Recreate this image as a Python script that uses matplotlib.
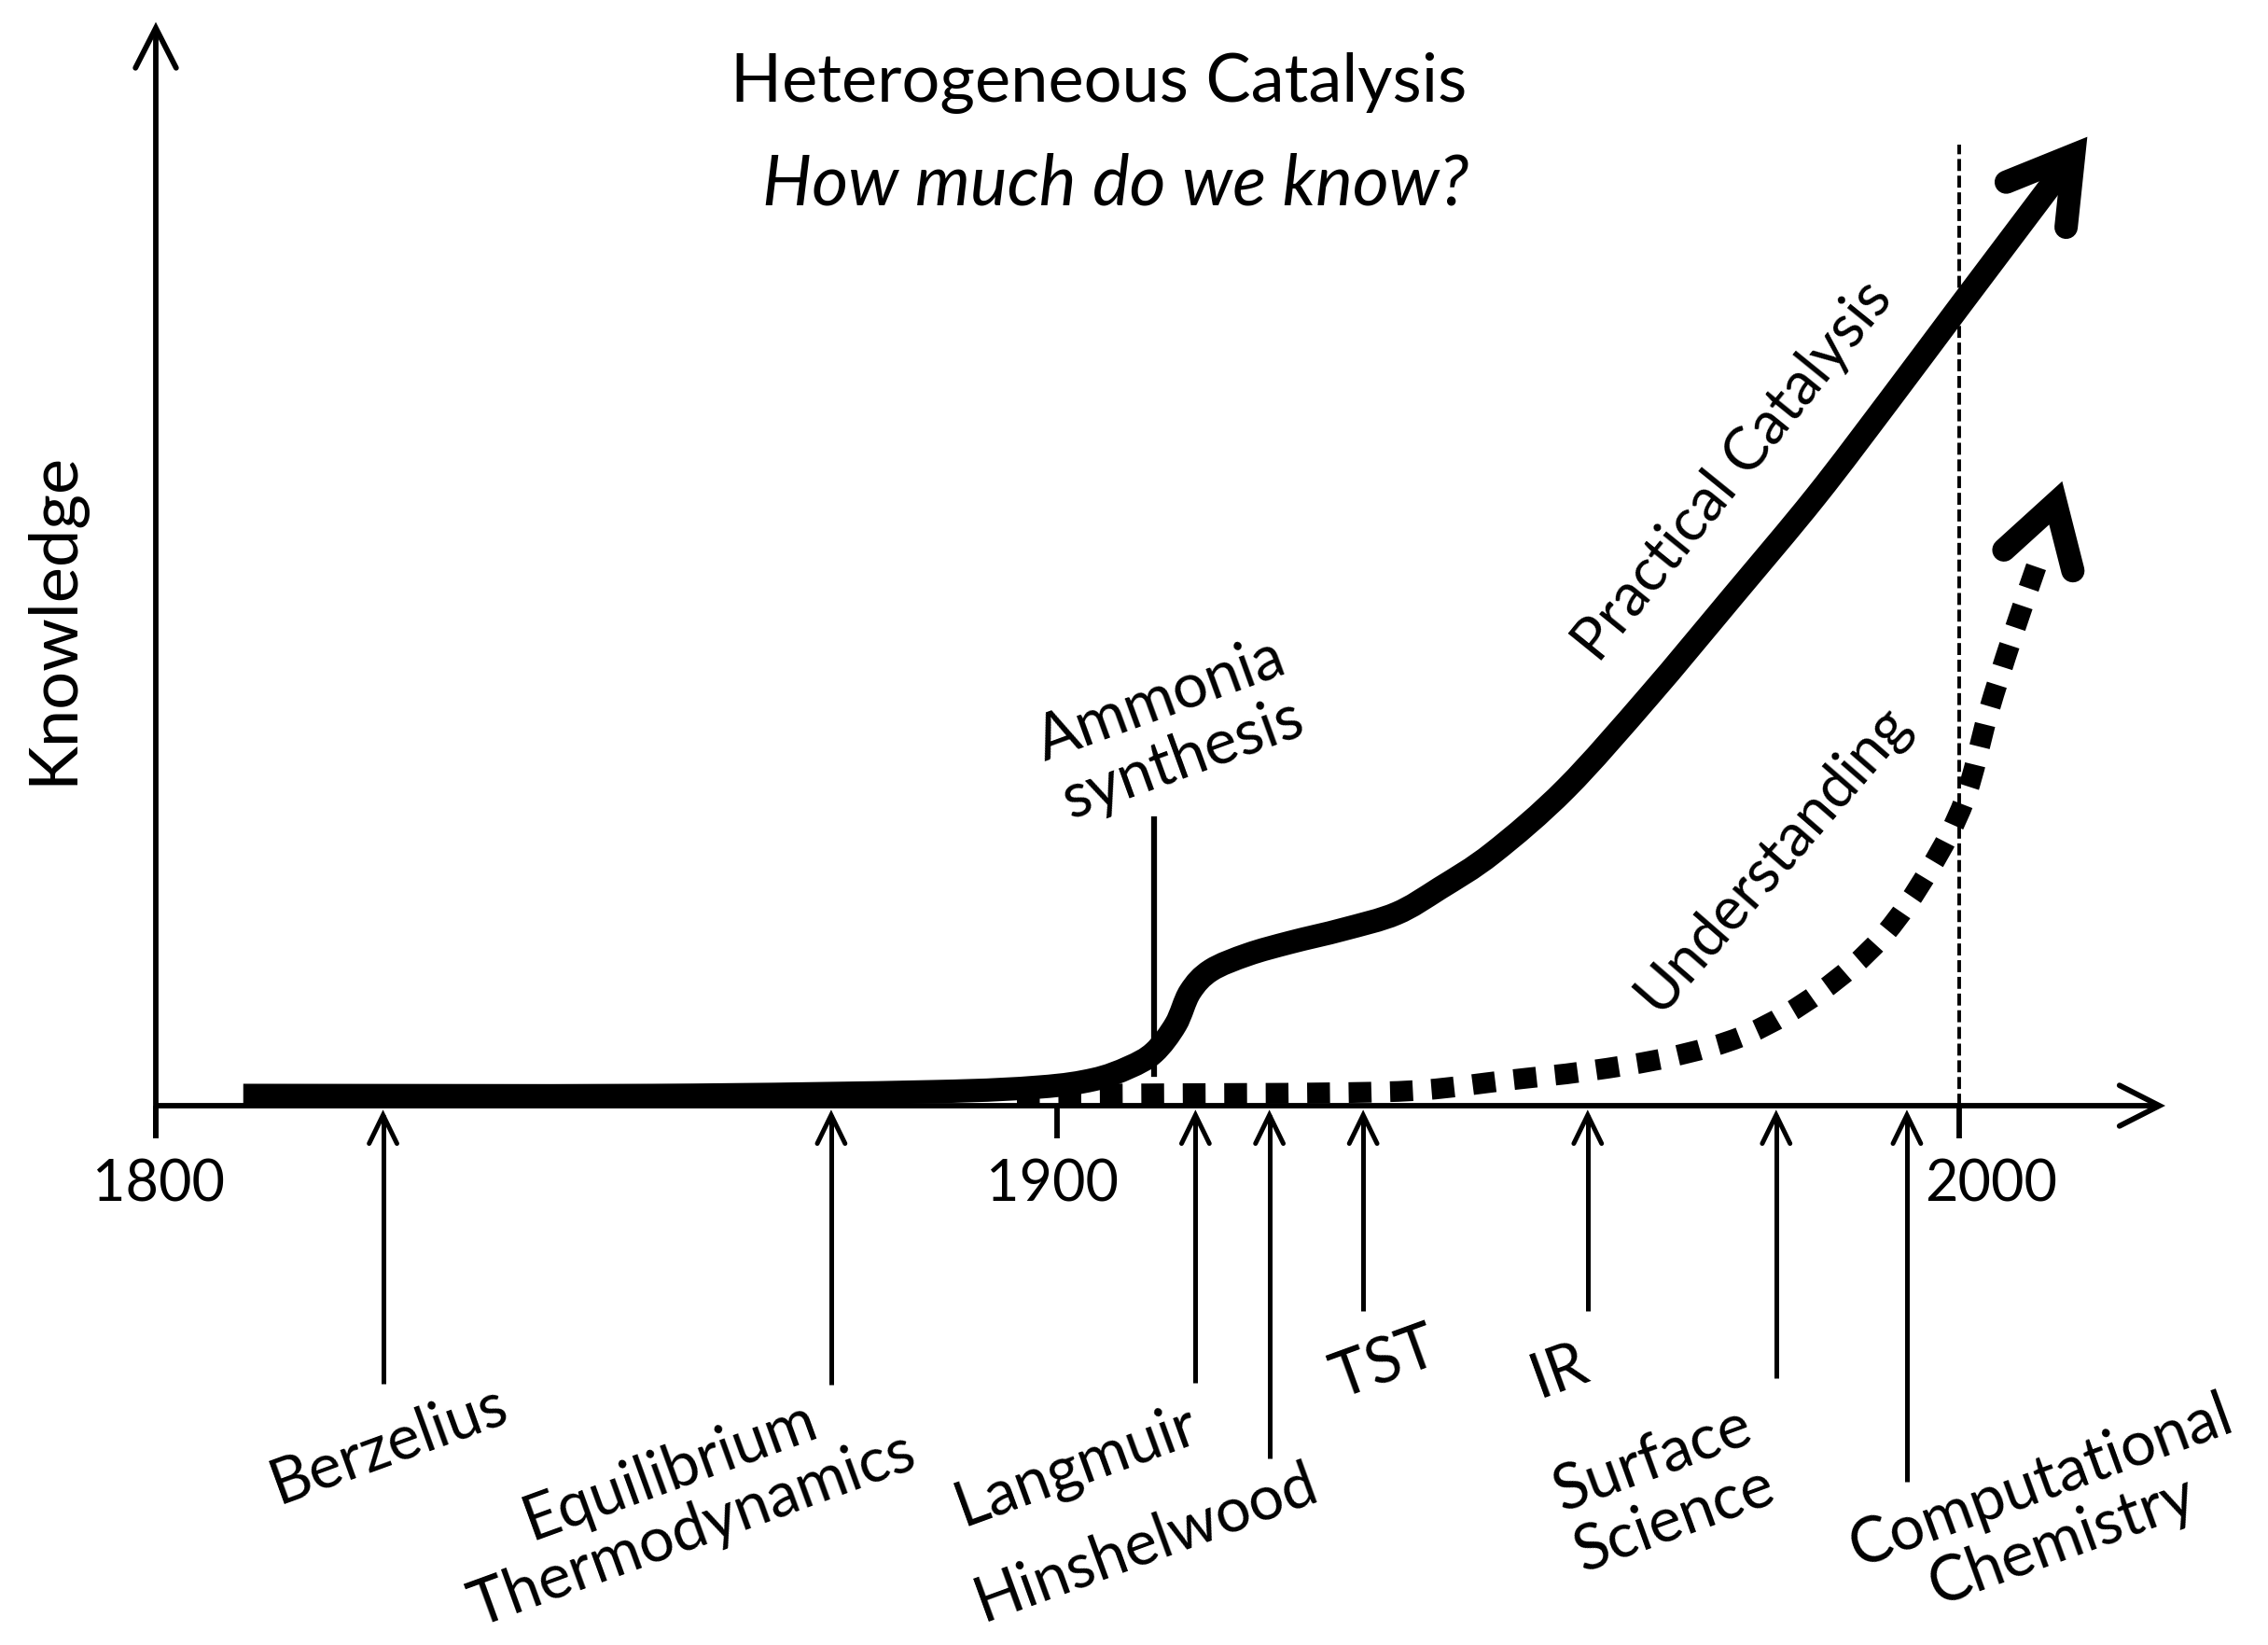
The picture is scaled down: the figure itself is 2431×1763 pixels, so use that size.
import numpy as np
import matplotlib
matplotlib.use('Agg')
import matplotlib.pyplot as plt
from matplotlib.path import Path
from matplotlib.patches import PathPatch

plt.rcParams['font.family'] = ['Lato', 'DejaVu Sans']

# ---- data (x = year, y = knowledge, arbitrary units) ----
practical_years = [1809.7, 1855.0, 1886.0, 1898.0, 1904.0, 1907.9, 1910.7, 1913.1,
                   1914.7, 1917.0, 1921.1, 1925.8, 1931.7, 1937.6, 1942.4, 1948.3,
                   1956.4, 1965.6, 1974.9, 1984.1, 1992.4, 2000.3, 2012.7]
practical_level = [0.11, 0.11, 0.15, 0.20, 0.28, 0.41, 0.57, 0.87,
                   1.22, 1.45, 1.62, 1.75, 1.89, 2.06, 2.33, 2.71,
                   3.40, 4.39, 5.46, 6.53, 7.58, 8.60, 10.19]

understanding_years = [1895.5, 1917.0, 1932.0, 1940.8, 1949.7, 1958.7, 1967.9, 1976.6,
                       1984.6, 1991.4, 1996.7, 2000.6, 2003.2, 2005.8, 2008.8, 2010.7]
understanding_level = [0.12, 0.13, 0.14, 0.17, 0.27, 0.37, 0.52, 0.77,
                       1.22, 1.80, 2.53, 3.28, 4.20, 5.00, 5.85, 6.46]

event_names = ['Berzelius', 'Equilibrium\nThermodynamics', 'Langmuir', 'Hinshelwood',
               'TST', 'IR', 'Surface\nScience', 'Computational\nChemistry']
event_years = [1825.2, 1874.9, 1915.3, 1923.5, 1933.9, 1958.8, 1979.7, 1994.2]

tick_years = [1800, 1900, 2000]
ammonia_year = 1910.7
present_year = 2000

# ---- layout ----
W, H, DPI = 2431, 1763, 100
PX_PER_YEAR = 9.665
PX_PER_UNIT = 100.0
X0_PX, Y0_PX = 167, 1185          # pixel of (1800, 0)

event_tail = [-2.98, -2.99, -2.97, -3.78, -2.20, -2.20, -2.92, -4.03]
event_label_dx = [0.7, -16.6, -13.2, -13.6, 2.4, -3.1, -12.4, 16.1]
event_label_y = [-3.63, -4.23, -3.86, -4.69, -2.77, -2.85, -4.12, -4.35]

fig = plt.figure(figsize=(W / DPI, H / DPI), dpi=DPI)
ax = fig.add_axes([0, 0, 1, 1])
ax.set_xlim(1800 - X0_PX / PX_PER_YEAR, 1800 + (W - X0_PX) / PX_PER_YEAR)
ax.set_ylim(-(H - Y0_PX) / PX_PER_UNIT, Y0_PX / PX_PER_UNIT)
ax.axis('off')


def smooth_path(xs, ys):
    # Catmull-Rom through the read points, drawn as cubic Bezier pieces
    p = np.column_stack([xs, ys])
    ext = np.vstack([p[0], p, p[-1]])
    verts = [p[0]]
    codes = [Path.MOVETO]
    for i in range(len(p) - 1):
        p0, p1, p2, p3 = ext[i], ext[i + 1], ext[i + 2], ext[i + 3]
        verts += [p1 + (p2 - p0) / 6, p2 - (p3 - p1) / 6, p2]
        codes += [Path.CURVE4] * 3
    return Path(verts, codes)


def arrow_head(x, y, x_from, y_from, length, half_angle, lw):
    # open V head at (x, y) pointing away from (x_from, y_from); length in pixels
    tip = ax.transData.transform((x, y))
    base = ax.transData.transform((x_from, y_from))
    d = (tip - base) / np.hypot(*(tip - base))
    pts = []
    for s in (1, -1):
        a = np.radians(s * half_angle)
        rot = np.array([[np.cos(a), -np.sin(a)], [np.sin(a), np.cos(a)]])
        pts.append(tip - length * (rot @ d))
    xy = ax.transData.inverted().transform(np.array([pts[0], tip, pts[1]]))
    ax.plot(xy[:, 0], xy[:, 1], color='black', lw=lw,
            solid_joinstyle='miter', solid_capstyle='round')


axis_lw = 4.2
top = 11.55
right = 2022.2
# axes
ax.plot([1800, 1800], [-0.35, top], color='black', lw=axis_lw, solid_capstyle='butt')
ax.plot([1800, right], [0, 0], color='black', lw=axis_lw, solid_capstyle='butt')
arrow_head(1800, top, 1800, 0, 48, 27, axis_lw)
arrow_head(right, 0, 1800, 0, 48, 27, axis_lw)

for yr in tick_years:
    ax.plot([yr, yr], [0, -0.35], color='black', lw=axis_lw, solid_capstyle='butt')
tick_label_dx = [0.3, -0.6, 3.5]
for yr, dx in zip(tick_years, tick_label_dx):
    ax.text(yr + dx, -0.85, str(yr), ha='center', va='center', fontsize=44)

# present-day dashed line
ax.plot([present_year, present_year], [0, 10.30], color='black', lw=2.8,
        linestyle=(0, (3.3, 1.3)))

# curves
ax.add_patch(PathPatch(smooth_path(practical_years, practical_level), fill=False,
                       edgecolor='black', lw=18, capstyle='butt', joinstyle='round'))
arrow_head(practical_years[-1], practical_level[-1],
           practical_years[-2], practical_level[-2], 78, 31, 18)

ax.add_patch(PathPatch(smooth_path(understanding_years[:-1], understanding_level[:-1]),
                       fill=False, edgecolor='black', lw=16, capstyle='butt',
                       linestyle=(0, (1.1, 0.9))))
arrow_head(understanding_years[-1], understanding_level[-1],
           understanding_years[-2], understanding_level[-2], 75, 31, 18)

# ammonia synthesis marker
ax.plot([ammonia_year, ammonia_year], [0.34, 3.07], color='black', lw=4.5)
ax.text(ammonia_year + 2.0, 4.03, 'Ammonia\nsynthesis', ha='center', va='center',
        rotation=20, rotation_mode='anchor', fontsize=48, linespacing=1.12)

# events
ev_lw = 3.6
for name, yr, tail, dx, ly in zip(event_names, event_years, event_tail,
                                  event_label_dx, event_label_y):
    ax.plot([yr, yr], [tail, -0.1], color='black', lw=ev_lw, solid_capstyle='butt')
    arrow_head(yr, -0.1, yr, tail, 34, 26, ev_lw)
    ax.text(yr + dx, ly, name, ha='center', va='center', rotation=20,
            rotation_mode='anchor', fontsize=48, linespacing=1.12)

# curve labels
ax.text(1975.0, 6.80, 'Practical Catalysis', ha='center', va='center',
        rotation=51, rotation_mode='anchor', fontsize=46)
ax.text(1979.3, 2.65, 'Understanding', ha='center', va='center',
        rotation=49, rotation_mode='anchor', fontsize=46)

# titles
ax.text(1904.6, 10.76, 'Heterogeneous Catalysis', ha='center', va='baseline', fontsize=52)
ax.text(1906.4, 9.65, 'How much do we know?', ha='center', va='baseline',
        fontsize=54, style='italic')
ax.text(1788.7, 5.23, 'Knowledge', ha='center', va='center', rotation=90, fontsize=52)

fig.savefig('out.png', dpi=DPI)
